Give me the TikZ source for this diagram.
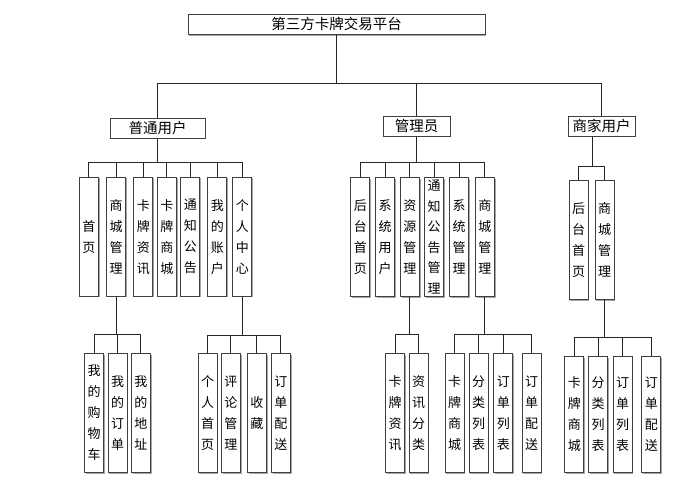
\documentclass[tikz,border=0pt]{standalone}
\usepackage{fontspec}
\newfontfamily\cjk{Noto Sans CJK SC}
\usetikzlibrary{shadows}
\tikzset{
  hbox/.style={draw=black!75, line width=0.9pt, fill=white, inner sep=0pt,
    font=\cjk\fontsize{14.5}{16}\selectfont,
    drop shadow={shadow xshift=1.2pt, shadow yshift=-1.2pt, fill=black!35, opacity=1}},
  vbox/.style={hbox, minimum width=19pt, minimum height=119pt, align=center,
    font=\cjk\fontsize{13}{21}\selectfont},
  link/.style={draw=black!85, line width=0.9pt},
}
\begin{document}
\begin{tikzpicture}[x=1pt,y=-1pt]
\useasboundingbox[fill=white] (0,0) rectangle (680,488);
% level 0/1
\node[hbox, minimum width=297pt, minimum height=20pt] (root) at (336.5,24.3) {第三方卡牌交易平台};
\node[hbox, minimum width=95pt, minimum height=20pt] (u) at (157.5,128.2) {普通用户};
\node[hbox, minimum width=67pt, minimum height=20pt] (a) at (416.5,126.2) {管理员};
\node[hbox, minimum width=67pt, minimum height=20pt] (m) at (601.5,126.2) {商家用户};
% level 2 user
\node[vbox] (u1) at (88.8,236.7) {首\\页};
\node[vbox] (u2) at (116.2,236.7) {商\\城\\管\\理};
\node[vbox] (u3) at (143.3,236.7) {卡\\牌\\资\\讯};
\node[vbox] (u4) at (166.8,236.7) {卡\\牌\\商\\城};
\node[vbox] (u5) at (190.3,236.7) {通\\知\\公\\告};
\node[vbox] (u6) at (217.3,236.7) {我\\的\\账\\户};
\node[vbox] (u7) at (242.3,236.7) {个\\人\\中\\心};
% level 2 admin
\node[vbox] (a1) at (360.3,237) {后\\台\\首\\页};
\node[vbox] (a2) at (385,237) {系\\统\\用\\户};
\node[vbox] (a3) at (409.8,237) {资\\源\\管\\理};
\node[vbox, font=\cjk\fontsize{13}{20.6}\selectfont] (a4) at (434.2,237) {通\\知\\公\\告\\管\\理};
\node[vbox] (a5) at (459,237) {系\\统\\管\\理};
\node[vbox] (a6) at (484.8,237) {商\\城\\管\\理};
% level 2 merchant
\node[vbox] (m1) at (578.7,240.3) {后\\台\\首\\页};
\node[vbox] (m2) at (604.5,240.3) {商\\城\\管\\理};
% level 3
\node[vbox] (u21) at (94,412.8) {我\\的\\购\\物\\车};
\node[vbox] (u22) at (117.5,412.8) {我\\的\\订\\单};
\node[vbox] (u23) at (140.8,412.8) {我\\的\\地\\址};
\node[vbox] (u71) at (207.5,412.8) {个\\人\\首\\页};
\node[vbox] (u72) at (230.8,412.8) {评\\论\\管\\理};
\node[vbox] (u73) at (256.8,412.8) {收\\藏};
\node[vbox] (u74) at (280.8,412.8) {订\\单\\配\\送};
\node[vbox] (a31) at (395,412.8) {卡\\牌\\资\\讯};
\node[vbox] (a32) at (418.5,412.8) {资\\讯\\分\\类};
\node[vbox] (a61) at (454.7,412.8) {卡\\牌\\商\\城};
\node[vbox] (a62) at (478.5,412.8) {分\\类\\列\\表};
\node[vbox] (a63) at (503.3,412.8) {订\\单\\列\\表};
\node[vbox] (a64) at (531.5,412.8) {订\\单\\配\\送};
\node[vbox, minimum height=115.6pt] (m21) at (574.3,414.5) {卡\\牌\\商\\城};
\node[vbox, minimum height=115.6pt] (m22) at (598,414.5) {分\\类\\列\\表};
\node[vbox, minimum height=115.6pt] (m23) at (622.7,414.5) {订\\单\\列\\表};
\node[vbox, minimum height=115.6pt] (m24) at (651.3,414.5) {订\\单\\配\\送};
% bus levels
\coordinate (y1) at (0,83.3);
\coordinate (yu) at (0,162.7);
\coordinate (ya) at (0,162.7);
\coordinate (ym) at (0,166);
\coordinate (yu2) at (0,334.5);
\coordinate (yu7) at (0,335);
\coordinate (ya3) at (0,334.3);
\coordinate (ya6) at (0,334.3);
\coordinate (ym2) at (0,337.7);
\coordinate (mdrop) at (592,0);
% connectors
\begin{scope}[on background layer/.style={}]
\foreach \c in {u,a,m} \draw[link] (root.south) -- (root.south |- y1) -| (\c.north);
\foreach \c in {u1,u2,u3,u4,u5,u6,u7} \draw[link] (u.south) -- (u.south |- yu) -| (\c.north);
\foreach \c in {a1,a2,a3,a4,a5,a6} \draw[link] (a.south) -- (a.south |- ya) -| (\c.north);
\foreach \c in {m1,m2} \draw[link] (mdrop |- m.south) -- (mdrop |- ym) -| (\c.north);
\foreach \c in {u21,u22,u23} \draw[link] (u2.south) -- (u2.south |- yu2) -| (\c.north);
\foreach \c in {u71,u72,u73,u74} \draw[link] (u7.south) -- (u7.south |- yu7) -| (\c.north);
\foreach \c in {a31,a32} \draw[link] (a3.south) -- (a3.south |- ya3) -| (\c.north);
\foreach \c in {a61,a62,a63,a64} \draw[link] (a6.south) -- (a6.south |- ya6) -| (\c.north);
\foreach \c in {m21,m22,m23,m24} \draw[link] (m2.south) -- (m2.south |- ym2) -| (\c.north);
\end{scope}
\end{tikzpicture}
\end{document}
